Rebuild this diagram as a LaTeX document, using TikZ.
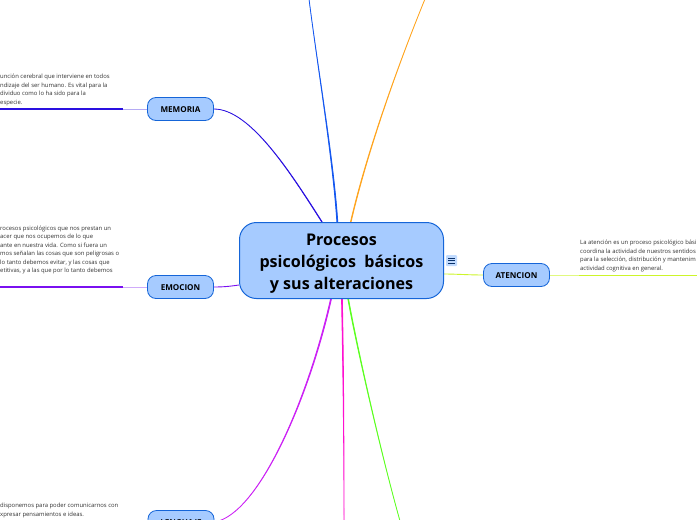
\documentclass[tikz,border=0pt]{standalone}
\usepackage{fontspec}
\setmainfont{Open Sans}
\usepackage{xcolor}
\usetikzlibrary{calc,backgrounds}
\definecolor{nodefill}{HTML}{A6CBFF}
\definecolor{nodeline}{HTML}{1565D8}
\definecolor{memline}{HTML}{2A10E0}
\definecolor{emoline}{HTML}{7A10F0}
\definecolor{lenline}{HTML}{CC22F5}
\definecolor{midline}{HTML}{FF10D0}
\definecolor{greenline}{HTML}{5CFF20}
\definecolor{yelline}{HTML}{CDF52A}
\definecolor{orangeline}{HTML}{FFA51F}
\definecolor{blueline}{HTML}{1558F0}
\definecolor{inktext}{HTML}{333333}
\tikzset{
  root/.style={draw=nodeline, fill=nodefill, line width=1pt, rounded corners=17pt, minimum width=204pt, minimum height=76pt, inner sep=0pt, align=center, font=\fontsize{16.1}{21.8}\selectfont\bfseries, text=black},
  topic/.style={draw=nodeline, fill=nodefill, line width=0.8pt, rounded corners=8.5pt, minimum width=66pt, minimum height=23pt, inner sep=0pt, text height=7pt, text depth=0pt, font=\fontsize{8.1}{9}\selectfont\bfseries, text=black},
  note/.style={inner sep=0pt, align=left, font=\fontsize{5.9}{8.5}\selectfont, text=inktext},
  branch/.style={line width=0.8pt},
  under/.style={line width=1.1pt},
  stub/.style={line width=0.7pt},
}
% limb: filled curve, thin at the first end and wider at the last
\newcommand{\limb}[6]{\draw[branch, draw=#1, fill=#1] (#2) .. controls (#3) and (#4) .. (#5) -- ($(#5)+(#6,0)$) .. controls ($(#4)+(#6,0)$) and (#3) .. (#2) -- cycle;}
\begin{document}
\begin{tikzpicture}[x=1pt,y=-1pt]
  \useasboundingbox (0,0) rectangle (697,520);

  \node[root] (proc) at (341.5,260.5) {\rule{0pt}{18pt}Procesos\\psicológicos\ \ básicos\\y sus alteraciones};
  \node[topic] (mem) at (180.5,109) {MEMORIA};
  \node[topic] (emo) at (180.5,287) {EMOCION};
  \node[topic] (ate) at (516.5,275) {ATENCION};
  \node[topic] (len) at (181,522) {LENGUAJE};

  % free ends
  \coordinate (bluetop) at (309,-1);
  \coordinate (orangetop) at (425,-1);
  \coordinate (midbot) at (344,521);
  \coordinate (greenbot) at (400,521);
  \coordinate (memleft) at (-1,109);
  \coordinate (memmid) at (123,109);
  \coordinate (emoleft) at (-1,287);
  \coordinate (emomid) at (123,287);
  \coordinate (atemid) at (579,275);
  \coordinate (ateright) at (698,275);
  % where the limbs enter the root
  \coordinate (inblue) at (337,224);
  \coordinate (inorange) at (350,224);
  \coordinate (inmem) at (323,224);
  \coordinate (inlen) at (331,297);
  \coordinate (inmid) at (341.5,297);
  \coordinate (ingreen) at (347.5,297);

  \begin{scope}[on background layer]
    \fill[white] (0,0) rectangle (697,520);
    \limb{blueline}{bluetop}{318,70}{333,160}{inblue}{0.9}
    \limb{orangeline}{orangetop}{400,60}{367,150}{inorange}{0.6}
    \limb{memline}{mem.east}{250,109}{290,172}{inmem}{0.5}
    \limb{lenline}{len.east}{258,515}{308,400}{inlen}{0.9}
    \limb{midline}{midbot}{344,450}{343,370}{inmid}{0.8}
    \limb{greenline}{greenbot}{380,450}{355,340}{ingreen}{0.7}
    \draw[line width=0.9pt, emoline] (emo.east) .. controls (225,287) and (232,286) .. (proc.west |- 0,285);
    \draw[line width=0.9pt, yelline] (proc.east |- 0,274) .. controls (455,274) and (470,275) .. (ate.west);
    \draw[stub, memline!35] (mem) -- (memmid);
    \draw[stub, emoline!35] (emo) -- (emomid);
    \draw[stub, yelline!60] (ate) -- (atemid);
  \end{scope}

  \draw[under, memline] (memmid) -- (memleft);
  \draw[under, emoline] (emomid) -- (emoleft);
  \draw[line width=0.9pt, yelline] (atemid) -- (ateright);

  \node[note, anchor=south west] (memtxt) at (0,105.7) {unción cerebral que interviene en todos\\ndizaje del ser humano. Es vital para la\\dividuo como lo ha sido para la\\especie.};
  \node[note, anchor=south west] (emotxt) at (0,274.5) {rocesos psicológicos que nos prestan un\\acer que nos ocupemos de lo que\\ante en nuestra vida. Como si fuera un\\mos señalan las cosas que son peligrosas o\\lo tanto debemos evitar, y las cosas que\\etitivas, y a las que por lo tanto debemos};
  \node[note, anchor=south west] (lentxt) at (0,518) {disponemos para poder comunicarnos con\\xpresar pensamientos e ideas.};
  \node[note, anchor=south west] (atetxt) at (580,271.7) {La atención es un proceso psicológico bási\\coordina la actividad de nuestros sentidos\\para la selección, distribución y mantenim\\actividad cognitiva en general.};

  % list icon beside the root
  \node[fill=nodefill!70, minimum size=11pt, inner sep=0pt, rounded corners=1pt] (ico) at (451.5,260.5) {};
  \foreach \yy in {-2.6,0,2.6}
    \draw[nodeline!50!black, line width=0.8pt] ($(ico)+(-3.3,\yy)$) -- ($(ico)+(3.3,\yy)$);
\end{tikzpicture}
\end{document}
